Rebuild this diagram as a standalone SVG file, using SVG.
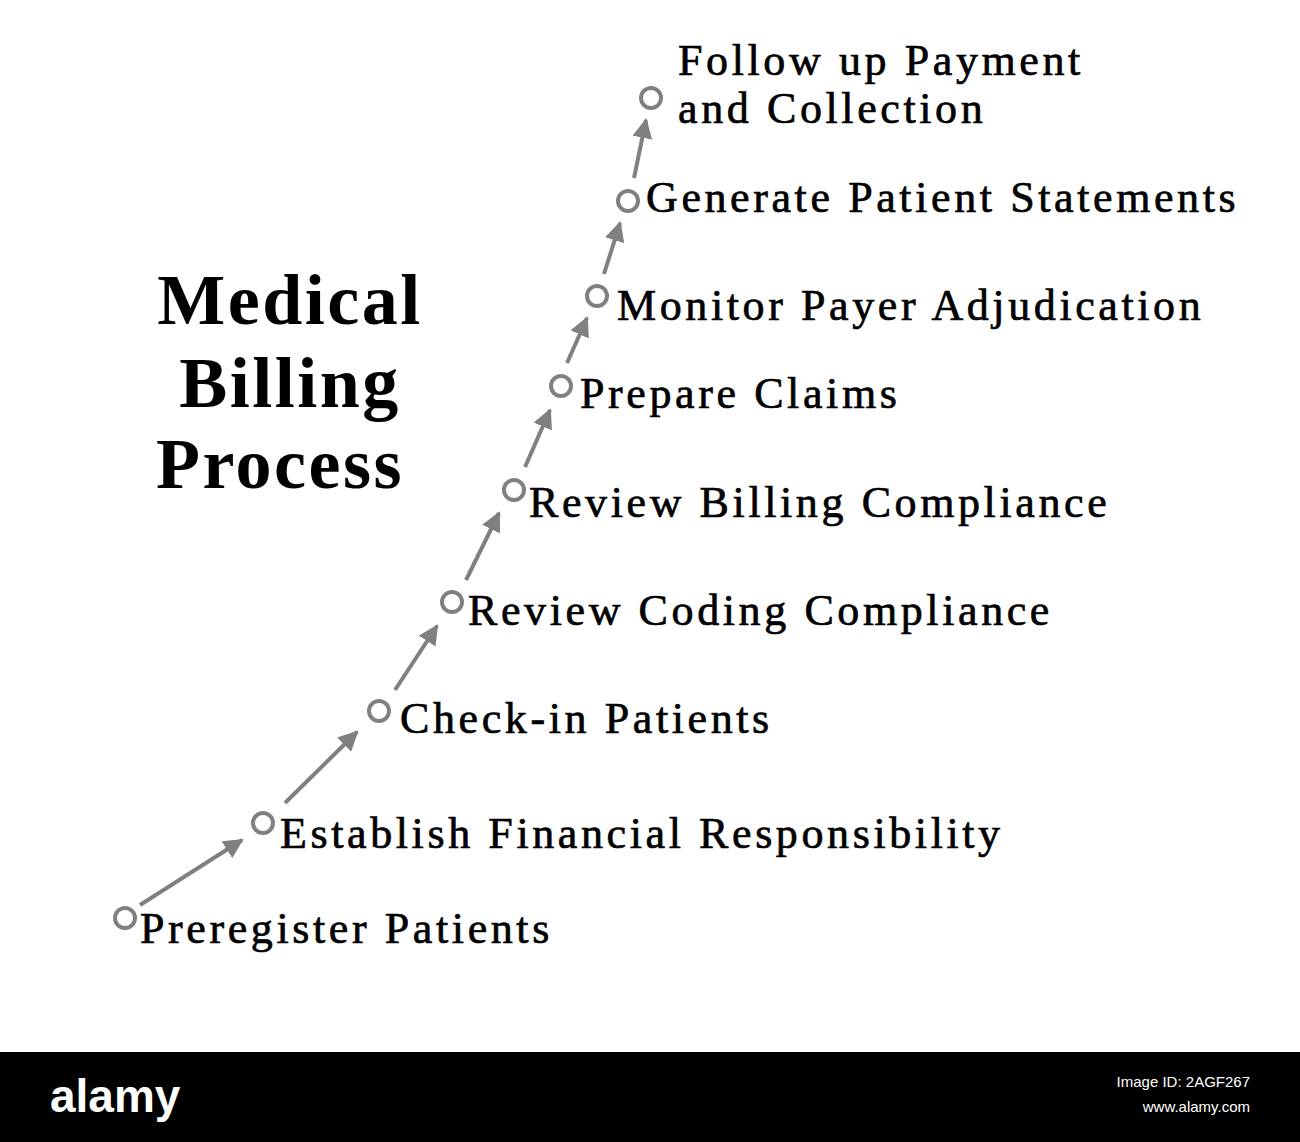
<svg xmlns="http://www.w3.org/2000/svg" width="1300" height="1142" viewBox="0 0 1300 1142">
<defs>
<marker id="ah" viewBox="0 0 10 10" refX="9" refY="5" markerWidth="5" markerHeight="5" orient="auto" markerUnits="strokeWidth"><path d="M0,0 L10,5 L0,10 z" fill="#808080"/></marker>
<style>
.n circle{fill:#fff;stroke:#808080;stroke-width:4}
.n text{font-family:"Liberation Serif",serif;font-size:44px;letter-spacing:3.6px;fill:#000;stroke:#000;stroke-width:0.7}
.t{font-family:"Liberation Serif",serif;font-size:72px;font-weight:bold;letter-spacing:2.5px;fill:#000;text-anchor:middle}
#c line{stroke:#808080;stroke-width:4;marker-end:url(#ah)}
</style>
</defs>
<rect width="1300" height="1142" fill="#fff"/>
<g id="title"><text class="t" x="290" y="324">Medical</text><text class="t" x="290" y="407">Billing</text><text class="t" x="280" y="488">Process</text></g>
<g id="c">
<line x1="140" y1="905" x2="242" y2="840"/>
<line x1="285" y1="803" x2="357" y2="732"/>
<line x1="395" y1="690" x2="437" y2="626"/>
<line x1="466" y1="580" x2="499" y2="513"/>
<line x1="525" y1="467" x2="550" y2="410"/>
<line x1="567" y1="363" x2="587" y2="318"/>
<line x1="604" y1="274" x2="620" y2="223"/>
<line x1="634" y1="178" x2="646" y2="120"/>
</g>
<g id="n1" class="n"><circle cx="125" cy="918" r="10"/><text x="140" y="943">Preregister Patients</text></g>
<g id="n2" class="n"><circle cx="263" cy="823" r="10"/><text x="280" y="848">Establish Financial Responsibility</text></g>
<g id="n3" class="n"><circle cx="379" cy="711" r="10"/><text x="400" y="733">Check-in Patients</text></g>
<g id="n4" class="n"><circle cx="452" cy="602" r="10"/><text x="468" y="625">Review Coding Compliance</text></g>
<g id="n5" class="n"><circle cx="514" cy="490" r="10"/><text x="529" y="517">Review Billing Compliance</text></g>
<g id="n6" class="n"><circle cx="561" cy="386" r="10"/><text x="580" y="408">Prepare Claims</text></g>
<g id="n7" class="n"><circle cx="597" cy="296" r="10"/><text x="617" y="320">Monitor Payer Adjudication</text></g>
<g id="n8" class="n"><circle cx="628" cy="201" r="10"/><text x="646" y="212">Generate Patient Statements</text></g>
<g id="n9" class="n"><circle cx="651" cy="98" r="10"/><text x="678" y="75">Follow up Payment</text><text x="678" y="123">and Collection</text></g>
<g id="bar"><rect x="0" y="1052" width="1300" height="90" fill="#000"/>
<text x="50" y="1112" font-family="Liberation Sans,sans-serif" font-size="46" font-weight="bold" fill="#fff">alamy</text>
<text x="1250" y="1087" font-family="Liberation Sans,sans-serif" font-size="15" fill="#fff" text-anchor="end">Image ID: 2AGF267</text>
<text x="1250" y="1112" font-family="Liberation Sans,sans-serif" font-size="15" fill="#fff" text-anchor="end">www.alamy.com</text></g>
</svg>
